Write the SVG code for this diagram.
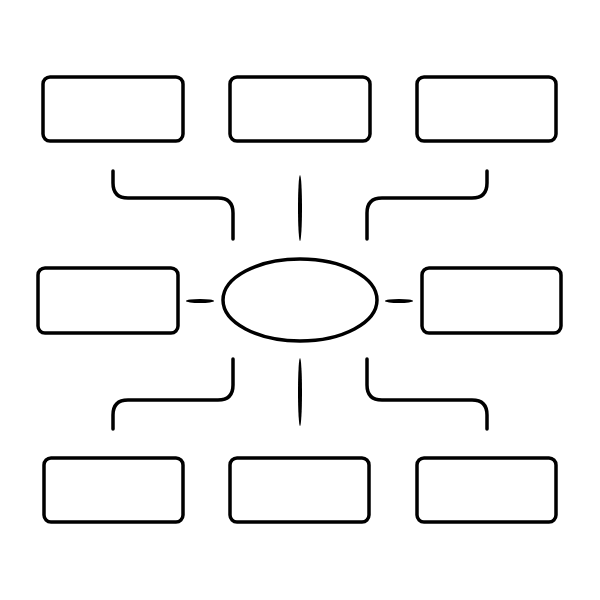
<svg xmlns="http://www.w3.org/2000/svg" width="600" height="600" viewBox="0 0 600 600">
<style>
.box{fill:#fff;stroke:#000;stroke-width:3.5}
.conn{fill:none;stroke:#000;stroke-width:3.5;stroke-linecap:round}
.tick{fill:#000}
</style>
<rect width="600" height="600" fill="#fff"/>
<g id="box-top-left"><rect class="box" x="43" y="77" width="140" height="64" rx="7"/></g>
<g id="box-top-center"><rect class="box" x="230" y="77" width="140" height="64" rx="7"/></g>
<g id="box-top-right"><rect class="box" x="417" y="77" width="139" height="64" rx="7"/></g>
<g id="box-mid-left"><rect class="box" x="38" y="268" width="140" height="65" rx="7"/></g>
<g id="box-mid-right"><rect class="box" x="422" y="268" width="139" height="65" rx="7"/></g>
<g id="box-bot-left"><rect class="box" x="44" y="458" width="139" height="64" rx="7"/></g>
<g id="box-bot-center"><rect class="box" x="230" y="458" width="139" height="64" rx="7"/></g>
<g id="box-bot-right"><rect class="box" x="417" y="458" width="139" height="64" rx="7"/></g>
<g id="center"><ellipse cx="300" cy="300" rx="77" ry="41" fill="#fff" stroke="#000" stroke-width="3.5"/></g>
<g id="connectors">
<path class="conn" d="M113,171 V183 Q113,198 128,198 H218 Q233,198 233,213 V239"/>
<path class="conn" d="M487,171 V183 Q487,198 472,198 H382 Q367,198 367,213 V239"/>
<path class="conn" d="M233,359 V385 Q233,400 218,400 H128 Q113,400 113,415 V429"/>
<path class="conn" d="M367,359 V385 Q367,400 382,400 H472 Q487,400 487,415 V429"/>
<ellipse class="tick" cx="300" cy="208" rx="2" ry="33"/>
<ellipse class="tick" cx="300" cy="392" rx="2" ry="34"/>
<ellipse class="tick" cx="200" cy="301" rx="14" ry="2"/>
<ellipse class="tick" cx="399" cy="301" rx="14" ry="2"/>
</g>
</svg>
